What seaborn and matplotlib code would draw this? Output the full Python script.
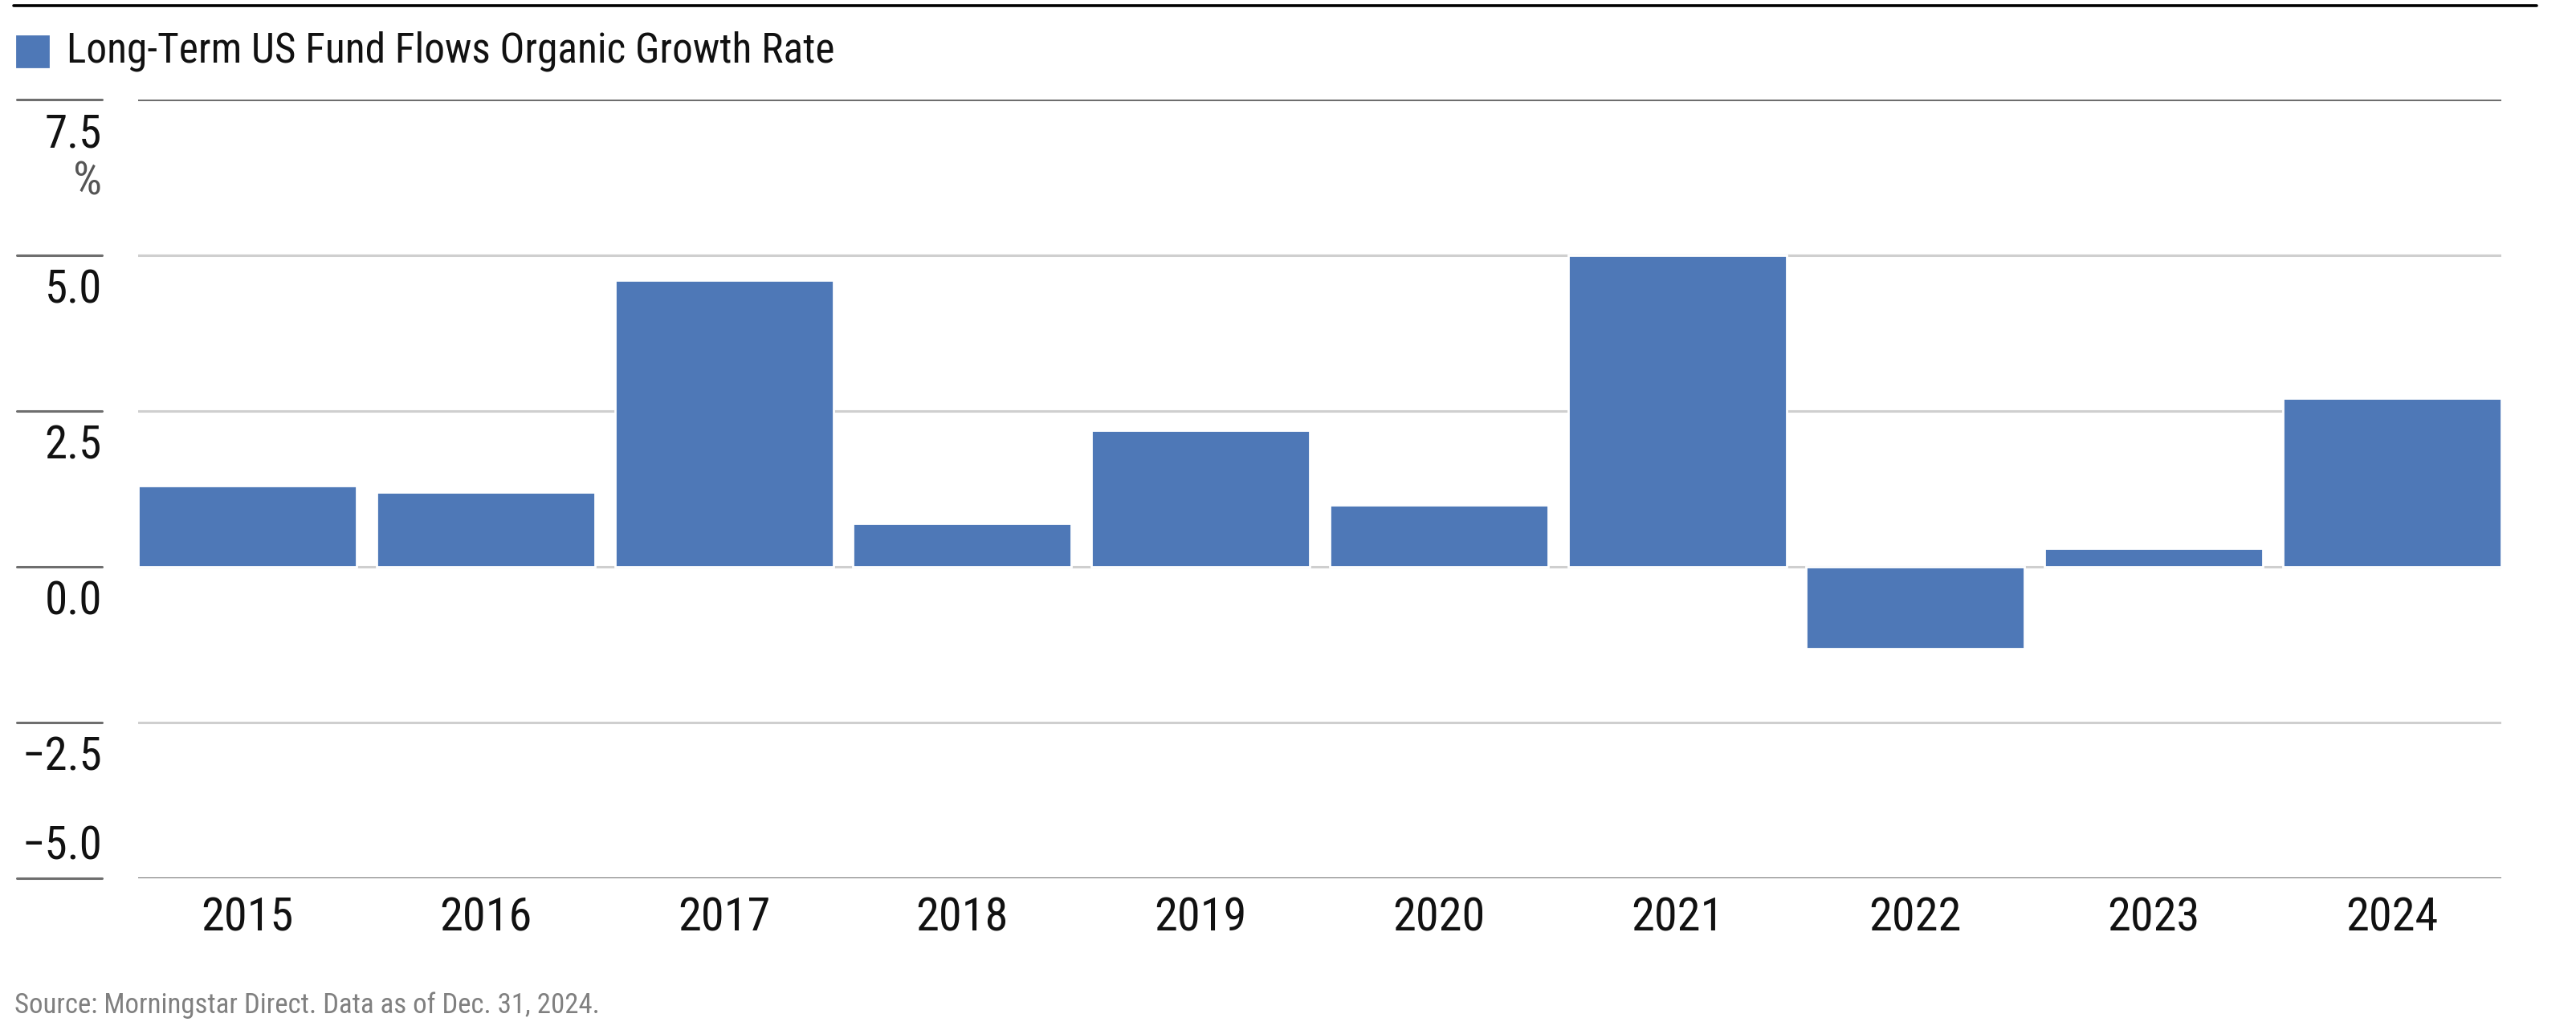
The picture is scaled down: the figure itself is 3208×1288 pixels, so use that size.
import matplotlib
matplotlib.use("Agg")
import matplotlib.pyplot as plt
import matplotlib.font_manager as fm
import matplotlib.transforms as mtransforms
from matplotlib.patches import Rectangle
from matplotlib.lines import Line2D
import seaborn as sns

# data
years = ["2015", "2016", "2017", "2018", "2019", "2020", "2021", "2022", "2023", "2024"]
growth = [1.30, 1.20, 4.60, 0.70, 2.19, 0.99, 5.00, -1.31, 0.30, 2.70]
y_ticks = [7.5, 5.0, 2.5, 0.0, -2.5, -5.0]
y_labels = ["7.5", "5.0", "2.5", "0.0", "\u22122.5", "\u22125.0"]
legend_label = "Long-Term US Fund Flows Organic Growth Rate"
source_note = "Source: Morningstar Direct. Data as of Dec. 31, 2024."

bar_color = "#4e78b7"
dark_line = "#6e6e6e"
grid_color = "#cfcfcf"

sns.set_theme(style="white")
names = {f.name for f in fm.fontManager.ttflist}
font = "DejaVu Sans"
for cand in ["Roboto Condensed", "Liberation Sans Narrow", "Open Sans Condensed", "Roboto"]:
    if cand in names:
        font = cand
        break
plt.rcParams["font.family"] = [font, "DejaVu Sans"]

W, H = 3208, 1288
fig = plt.figure(figsize=(W / 200, H / 200), dpi=200)
ax = fig.add_axes([172 / W, 1 - 1094 / H, (3115 - 172) / W, (1094 - 124) / H])

sns.barplot(x=years, y=growth, color=bar_color, saturation=1, width=0.917, ax=ax, zorder=2)

ax.set_xlim(-0.4585, 9.4585)
ax.set_ylim(-5, 7.5)
ax.set_yticks(y_ticks)
ax.set_yticklabels([])
ax.tick_params(axis="y", length=0)
ax.tick_params(axis="x", length=0, pad=8, labelsize=21, labelcolor="#111111")
ax.set_xlabel("")
ax.set_ylabel("")
for s in ax.spines.values():
    s.set_visible(False)

# gridlines
for t in y_ticks:
    c = dark_line if t in (7.5, -5.0) else grid_color
    ax.axhline(t, color=c, lw=1.1, zorder=1 if c == grid_color else 3)

# left tick marks and labels under them
trans = mtransforms.blended_transform_factory(fig.transFigure, ax.transData)
for t, lab in zip(y_ticks, y_labels):
    ax.add_line(Line2D([21 / W, 127 / W], [t, t], transform=trans, color=dark_line,
                       lw=1.1, clip_on=False))
    dy = 14 if t == -5.0 else -16
    off = mtransforms.offset_copy(trans, fig=fig, x=0, y=dy, units="points")
    ax.text(127 / W, t, lab, transform=off, ha="right", va="center",
            fontsize=20.5, color="#111111", clip_on=False)
off = mtransforms.offset_copy(trans, fig=fig, x=0, y=-37, units="points")
ax.text(127 / W, 7.5, "%", transform=off, ha="right", va="center",
        fontsize=20.5, color="#555555", clip_on=False)

# top rule
fig.add_artist(Line2D([17 / W, 3159 / W], [1 - 6.5 / H, 1 - 6.5 / H], color="black", lw=1.3))

# legend
fig.add_artist(Rectangle((21 / W, 1 - 83 / H), 39 / W, 38 / H, color=bar_color,
                         transform=fig.transFigure))
fig.text(83 / W, 1 - 64 / H, legend_label, ha="left", va="center", fontsize=18.5, color="#111111")

# source
fig.text(18 / W, 1 - 1252 / H, source_note, ha="left", va="center", fontsize=12.5, color="#808080")

fig.savefig("out.png", dpi=200, facecolor="white")
